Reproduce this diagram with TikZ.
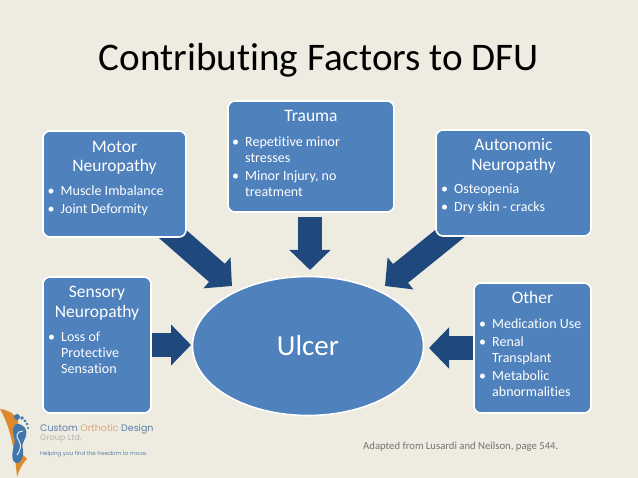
\documentclass[tikz,border=0pt]{standalone}
\usepackage{fontspec}
\setmainfont{Carlito}[Ligatures=NoCommon]
\newfontfamily\logofont{Poppins}
\usetikzlibrary{arrows.meta,positioning,shapes.geometric}
\definecolor{slidebg}{HTML}{EEECE1}
\definecolor{boxblue}{HTML}{4F81BD}
\definecolor{arrowblue}{HTML}{1F497D}
\definecolor{logoblue}{HTML}{3F76AE}
\definecolor{logotext}{HTML}{5C7FA8}
\definecolor{logoorange}{HTML}{DD8A2E}
\definecolor{logotan}{HTML}{D9A67C}
\definecolor{logogrey}{HTML}{B5B5AE}
\tikzset{
    factor/.style = {draw=white, line width=1.6pt, fill=boxblue, rounded corners=7pt,
        anchor=north west, inner sep=0pt, outer sep=0pt},
    factortitle/.style = {text=white, font=\fontsize{17.5}{19.5}\selectfont, align=center, inner sep=0pt},
    factorlist/.style = {text=white, font=\fontsize{14}{16}\selectfont, align=left, inner sep=0pt},
    bigarrow/.style = {draw=arrowblue, line width=24pt,
        -{Triangle[length=20pt,width=40pt]}},
    logotxt/.style = {inner sep=0pt, anchor=west},
}
\newcommand{\bul}{\makebox[13pt][l]{\textbullet}}
\newcommand{\cont}{\hspace*{13pt}}
\pgfdeclarelayer{bg}
\pgfsetlayers{bg,main}
\begin{document}
\begin{tikzpicture}[x=1pt,y=-1pt]
    % background of the slide
    \begin{pgfonlayer}{bg}
        \fill [slidebg] (0,0) rectangle (638,478);
    \end{pgfonlayer}
    \useasboundingbox (0,0) rectangle (638,478);

    \node [text=black, font=\fontsize{39.1}{44}\selectfont, inner sep=0pt] (title) at (319,60) {Contributing Factors to DFU};

    % the boxes
    \node [factor, minimum width=143pt, minimum height=106pt] (motor) at (43,131) {};
    \node [factor, minimum width=166pt, minimum height=111pt] (trauma) at (228,101) {};
    \node [factor, minimum width=155pt, minimum height=106pt] (autonomic) at (436,130) {};
    \node [factor, minimum width=108pt, minimum height=136pt] (sensory) at (43,277) {};
    \node [factor, minimum width=117pt, minimum height=130pt] (other) at (474,283) {};
    \node [draw=white, line width=1.6pt, fill=boxblue, ellipse, minimum width=231pt, minimum height=139pt,
        inner sep=0pt, text=white, font=\fontsize{29}{34}\selectfont] (ulcer) at (308,346) {\raisebox{-1.5pt}{Ulcer}};

    % texts of the boxes
    \node [factortitle, below=10pt of motor.north] (motor_title) {Motor\\Neuropathy};
    \node [factorlist, anchor=north west] (motor_list) at (47.5,186) {\bul Muscle Imbalance\\[2pt]\bul Joint Deformity};
    \node [factortitle, below=9pt of trauma.north] (trauma_title) {Trauma};
    \node [factorlist, anchor=north west] (trauma_list) at (232,137) {\bul Repetitive minor\\\cont stresses\\[2pt]\bul Minor Injury, no\\\cont treatment};
    \node [factortitle, below=8.5pt of autonomic.north] (autonomic_title) {Autonomic\\Neuropathy};
    \node [factorlist, anchor=north west] (autonomic_list) at (441,183.5) {\bul Osteopenia\\[2pt]\bul Dry skin - cracks};
    \node [factortitle, below=9pt of sensory.north] (sensory_title) {Sensory\\Neuropathy};
    \node [factorlist, anchor=north west] (sensory_list) at (48,332) {\bul Loss of\\\cont Protective\\\cont Sensation};
    \node [factortitle, below=8pt of other.north] (other_title) {Other};
    \node [factorlist, anchor=north west] (other_list) at (479,319) {\bul Medication Use\\[2pt]\bul Renal\\\cont Transplant\\[2pt]\bul Metabolic\\\cont abnormalities};

    % free ends of the arrows, next to the ulcer
    \coordinate (motor_tip) at (232,286);
    \coordinate (trauma_tip) at (310,270);
    \coordinate (autonomic_tip) at (385,286);
    \coordinate (sensory_tip) at (191,345);
    \coordinate (other_tip) at (429,348);

    \begin{pgfonlayer}{bg}
        \draw [bigarrow] ([shift={(-26,-14)}]motor.south east) -- (motor_tip);
        \draw [bigarrow] ([xshift=82pt,yshift=-5pt]trauma.south west) -- (trauma_tip);
        \draw [bigarrow] ([shift={(22,-9)}]autonomic.south west) -- (autonomic_tip);
        \draw [bigarrow] ([xshift=-5pt]sensory.east) -- (sensory_tip);
        \draw [bigarrow] ([xshift=5pt]other.west) -- (other_tip);
    \end{pgfonlayer}

    % logo
    \fill [logoorange] (0,409) .. controls (8,410) and (14,413) .. (18,420) -- (18,450) -- (27,459) .. controls (22,464) and (19,470) .. (17,477) .. controls (15,455) and (12,430) .. (0,409) -- cycle;
    \fill [logoblue] (17,424) .. controls (24,424) and (28,430) .. (26,436) .. controls (24,442) and (21,444) .. (23,450) .. controls (24,458) and (20,464) .. (16,463) .. controls (11,462) and (12,452) .. (14,446) .. controls (16,440) and (13,435) .. (13,431) .. controls (13,427) and (15,424) .. (17,424) -- cycle;
    \draw [slidebg, line width=1pt] (23,431) .. controls (17,431) and (15,436) .. (19,441) .. controls (22,445) and (20,452) .. (17,455);
    \foreach \tx/\ty/\tr in {17/417/3, 22/418/1.8, 25/421/1.5, 27/424/1.3, 28/428/1.2}{
        \fill [logoblue] (\tx,\ty) circle (\tr pt);
    }
    \node [logotxt, font=\fontsize{9.5}{12}\selectfont\logofont, text=logotext] (logo_name) at (40,429) {Custom \textcolor{logotan}{Orthotic} Design};
    \node [logotxt, font=\fontsize{8.2}{11}\selectfont\logofont, text=logogrey] (logo_group) at (40,439) {Group Ltd.};
    \node [logotxt, font=\fontsize{5.6}{8}\selectfont\logofont, text=logotext] (logo_slogan) at (40,454) {Helping you find the freedom to move.};

    \node [inner sep=0pt, anchor=west, font=\fontsize{10.7}{14}\selectfont, text=black!55] (source) at (363,447) {Adapted from Lusardi and Neilson, page 544.};
\end{tikzpicture}
\end{document}
